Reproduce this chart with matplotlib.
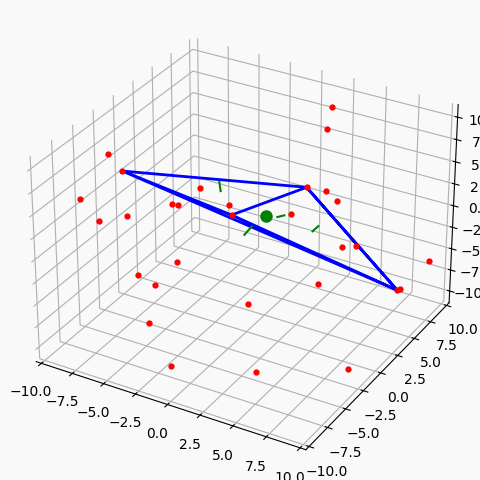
import matplotlib
matplotlib.use('Agg')
import matplotlib.pyplot as plt

px = [-8.2, -8.4, -7.6, -6.6, -7.1, -4.9, -4.6, -4.1, -1.6, -1.1, 3.0, 3.1, 4.6, 5.6, 2.2, 2.5, 6.1, 6.7, 9.6, 8.3, 8.4, 5.8, 2.1, -4.1, -6.1, -4.7, -3.9, -0.9, 4.9, 9.3]
py = [-4.2, -7.4, -6.4, -4.5, -4.2, -1.6, -1.3, 0.8, 0.4, -0.1, 0.8, 2.7, 2.7, 2.3, 7.8, 6.6, 2.2, 3.1, 8.6, 6.4, 6.6, -0.5, -3.4, -2.4, -4.1, -4.2, -6.4, -8.4, -7.2, -2.6]
pz = [8.55, 5.7, 2.85, 2.5, 7.07, 2.5, 2.28, 2.85, 2.28, 1.71, 2.85, 4.56, 4.79, 4.33, 9.69, 8.2, -0.57, -0.91, -5.47, -7.75, -7.75, -2.85, -4.56, -3.19, -4.33, -4.79, -7.07, -9.12, -7.98, -9.35]

edge_x = [-7.1, 3.1, -1.1, -7.1, 8.3, 3.1, 8.3, -1.1]
edge_y = [-4.2, 2.7, -0.1, -4.2, 6.4, 2.7, 6.4, -0.1]
edge_z = [7.07, 4.56, 1.71, 7.07, -7.75, 4.56, -7.75, 1.71]

center = [0.8, 1.2, 1.4]

stub_start_x = [-1.7, 1.46, 0.03, 3.44]
stub_start_y = [-0.52, 1.64, 0.7, 3.0]
stub_start_z = [4.45, 1.29, 0.34, -0.49]
stub_end_x = [-1.8, 1.85, 0.03, 3.44]
stub_end_y = [-0.52, 1.9, -0.34, 3.82]
stub_end_z = [5.47, 1.46, 0.11, -0.49]

BG = '#f9f9f9'
fig = plt.figure(figsize=(4.8, 4.8), dpi=100, facecolor=BG)
ax = fig.add_axes([0, 0, 1, 1], projection='3d', facecolor=BG)
ax.computed_zorder = False

ax.plot(edge_x, edge_y, edge_z, color='blue', lw=2, zorder=2)
ax.plot(px, py, pz, 'r.', ms=7, zorder=3)
ax.plot(center[0], center[1], center[2], 'o', color='green', ms=8, zorder=4)
for i in range(4):
    ax.plot([stub_start_x[i], stub_end_x[i]], [stub_start_y[i], stub_end_y[i]],
            [stub_start_z[i], stub_end_z[i]], color='green', lw=1.5, zorder=2)
ax.set_xlim(-10.42, 10.42); ax.set_ylim(-10.42, 10.42); ax.set_zlim(-11.4, 11.4)
ticks = [-10, -7.5, -5, -2.5, 0, 2.5, 5, 7.5, 10]
ax.set_xticks(ticks); ax.set_yticks(ticks); ax.set_zticks(ticks)
for a in (ax.xaxis, ax.yaxis, ax.zaxis):
    a.set_pane_color((1, 1, 1, 0.0))
    a.pane.set_edgecolor('#eeeeee')
fig.savefig('out.png', dpi=100, facecolor=BG)
